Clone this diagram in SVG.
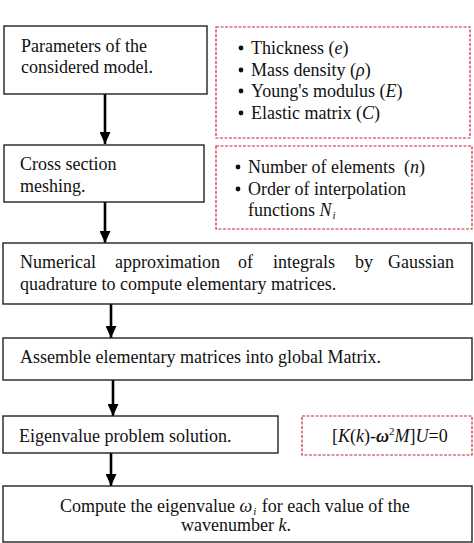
<svg xmlns="http://www.w3.org/2000/svg" width="474" height="543" viewBox="0 0 474 543">
<style>
.box{fill:#fff;stroke:#222;stroke-width:1.4}
.note{fill:#fff;stroke:#c8283a;stroke-width:1.2;stroke-dasharray:3 1.5}
text{font-family:"Liberation Serif","Times New Roman",serif;font-size:18px;fill:#111}
.i{font-style:italic}
.dot{fill:#111}
.edge{stroke:#000;stroke-width:2.6;fill:none}
</style>
<defs>
<marker id="ah" viewBox="0 0 12 11" refX="12" refY="5.5" markerWidth="12" markerHeight="11" markerUnits="userSpaceOnUse" orient="auto">
<path d="M0,0 L12,5.5 L0,11 Z" fill="#000"/>
</marker>
</defs>
<rect width="474" height="543" fill="#fff"/>
<g id="connectors">
<line class="edge" x1="105" y1="94" x2="105" y2="144" marker-end="url(#ah)"/>
<line class="edge" x1="105" y1="202" x2="105" y2="243" marker-end="url(#ah)"/>
<line class="edge" x1="111" y1="304" x2="111" y2="338" marker-end="url(#ah)"/>
<line class="edge" x1="113" y1="380" x2="113" y2="416" marker-end="url(#ah)"/>
<line class="edge" x1="111" y1="453" x2="111" y2="486" marker-end="url(#ah)"/>
</g>
<g id="n1">
<rect class="box" x="4" y="26" width="203" height="68"/>
<text x="21" y="52">Parameters of the</text>
<text x="21" y="73">considered model.</text>
</g>
<g id="p1">
<rect class="note" x="216" y="27" width="254" height="111"/>
<circle class="dot" cx="241" cy="48" r="2.4"/><text x="251" y="54">Thickness (<tspan class="i">e</tspan>)</text>
<circle class="dot" cx="241" cy="70" r="2.4"/><text x="251" y="76">Mass density (<tspan class="i">ρ</tspan>)</text>
<circle class="dot" cx="241" cy="91" r="2.4"/><text x="251" y="97">Young's modulus (<tspan class="i">E</tspan>)</text>
<circle class="dot" cx="241" cy="113" r="2.4"/><text x="251" y="119">Elastic matrix (<tspan class="i">C</tspan>)</text>
</g>
<g id="n2">
<rect class="box" x="4" y="145" width="200" height="57"/>
<text x="20" y="170">Cross section</text>
<text x="20" y="192">meshing.</text>
</g>
<g id="p2">
<rect class="note" x="216" y="146" width="256" height="83"/>
<circle class="dot" cx="238" cy="167" r="2.4"/><text x="248" y="173">Number of elements&#160; (<tspan class="i">n</tspan>)</text>
<circle class="dot" cx="238" cy="189" r="2.4"/><text x="248" y="195">Order of interpolation</text>
<text x="248" y="216">functions <tspan class="i">N</tspan><tspan class="i" font-size="11" dx="1" dy="3">i</tspan></text>
</g>
<g id="n3">
<rect class="box" x="3" y="243" width="469" height="61"/>
<text y="268"><tspan x="20">Numerical</tspan><tspan x="115">approximation</tspan><tspan x="238">of</tspan><tspan x="273">integrals</tspan><tspan x="355">by</tspan><tspan x="388">Gaussian</tspan></text>
<text x="20" y="290">quadrature to compute elementary matrices.</text>
</g>
<g id="n4">
<rect class="box" x="3" y="338" width="469" height="42"/>
<text x="20" y="363">Assemble elementary matrices into global Matrix.</text>
</g>
<g id="n5">
<rect class="box" x="3" y="416" width="275" height="37"/>
<text x="19" y="442">Eigenvalue problem solution.</text>
</g>
<g id="p3">
<rect class="note" x="302" y="416" width="170" height="39"/>
<text x="332" y="442">[<tspan class="i">K</tspan>(<tspan class="i">k</tspan>)-<tspan class="i" font-weight="bold">ω</tspan><tspan font-size="11" dy="-7">2</tspan><tspan class="i" dy="7">M</tspan>]<tspan class="i">U</tspan>=0</text>
</g>
<g id="n6">
<rect class="box" x="3" y="486" width="469" height="56"/>
<text x="60" y="512">Compute the eigenvalue <tspan class="i">ω</tspan><tspan class="i" font-size="11" dx="1" dy="3">i</tspan><tspan dx="1" dy="-3"> for each value of the</tspan></text>
<text x="236" y="531" text-anchor="middle">wavenumber <tspan class="i">k</tspan>.</text>
</g>
</svg>
